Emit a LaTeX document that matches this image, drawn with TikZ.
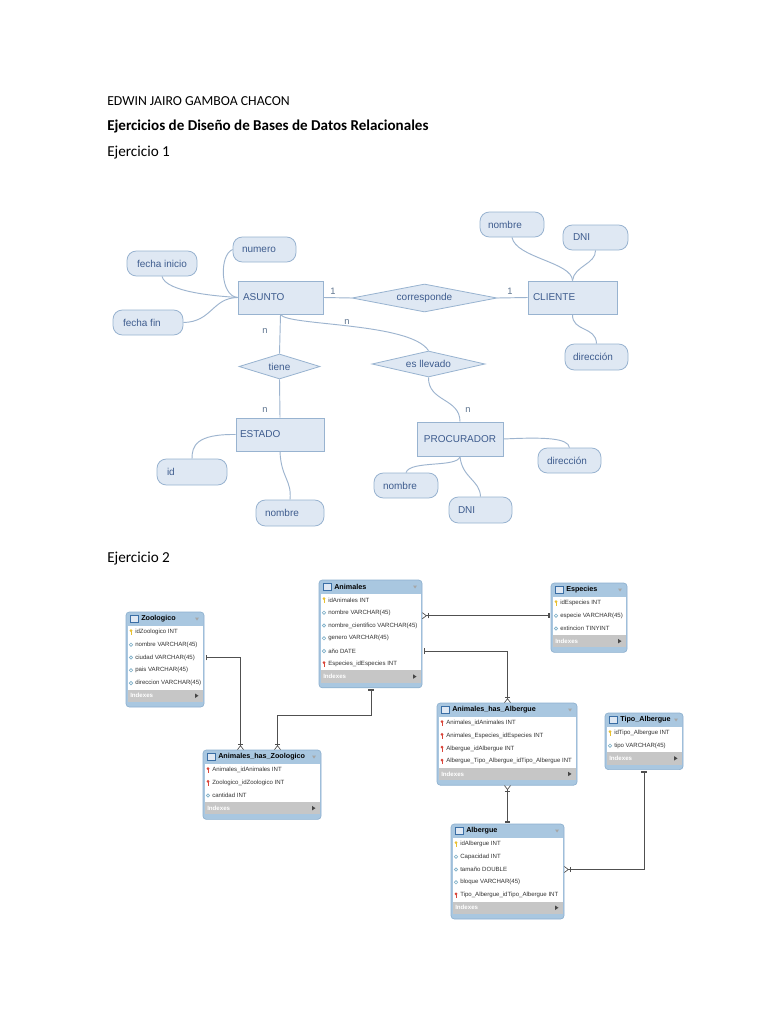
\documentclass[tikz,border=0pt]{standalone}
\usepackage{fontspec}
\setmainfont{Carlito}
\newfontfamily\erfont{Liberation Sans}
\usetikzlibrary{shapes.geometric, arrows.meta}

\definecolor{erfill}{HTML}{DFE8F3}
\definecolor{erdraw}{HTML}{98B3D0}
\definecolor{ertext}{HTML}{3E5C8E}
\definecolor{erlink}{HTML}{9DB4CF}
\definecolor{erlabel}{HTML}{5F7590}
\definecolor{tabhead}{HTML}{A9C7E0}
\definecolor{tabedge}{HTML}{8DB0CF}
\definecolor{tabgray}{HTML}{C6C6C6}
\definecolor{tabicon}{HTML}{3A6EA5}
\definecolor{keyyel}{HTML}{E8C030}
\definecolor{fkred}{HTML}{D9453A}
\definecolor{colcyan}{HTML}{7FB0C8}
\definecolor{linkgray}{HTML}{505050}

\tikzset{
  size/.code 2 args={\pgfmathsetmacro\bw{#1*0.75}\pgfmathsetmacro\bh{#2*0.75}%
    \edef\tmp{\noexpand\tikzset{minimum width=\bw pt,minimum height=\bh pt}}\tmp},
  box/.code n args={3}{\tikzset{size={#1}{#2}}\pgfmathsetmacro\bt{(#1-2*#3)*0.75}%
    \edef\tmp{\noexpand\tikzset{execute at begin node={\noexpand\hbox to \bt pt\noexpand\bgroup},
      execute at end node={\noexpand\hfil\noexpand\egroup}}}\tmp},
  entity/.style={draw=erdraw, fill=erfill, inner sep=0pt, text=ertext,
    font=\erfont\fontsize{7.5}{9}\selectfont, line width=0.6pt},
  attrib/.style={entity, rounded corners=7pt},
  relship/.style={entity, diamond},
  erline/.style={draw=erlink, line width=0.7pt},
  card/.style={text=erlabel, font=\erfont\fontsize{7}{8}\selectfont, inner sep=0pt},
  heading/.style={anchor=base west, inner sep=0pt, font=\fontsize{11.4}{13}\selectfont},
  rowtext/.style={font=\erfont\fontsize{4.55}{5.5}\selectfont, text=black!80, inner sep=0pt, anchor=west},
  tabtitle/.style={font=\erfont\bfseries\fontsize{5.4}{6.5}\selectfont, inner sep=0pt, anchor=west},
  idxtext/.style={font=\erfont\bfseries\fontsize{4.6}{5.5}\selectfont, text=white, inner sep=0pt, anchor=west},
  onemany/.style={draw=linkgray, line width=0.5pt,
    arrows={{Bar[width=4pt,sep=1.2pt]Bar[width=4pt]}-{Bar[width=4pt,sep=0.6pt]Straight Barb[reversed,length=3pt,width=4.5pt]}}},
}

% icons of the columns
\newcommand{\keyicon}[2]{\fill[keyyel] (#1,#2-1.3) circle (1.5); \fill[keyyel] (#1-0.45,#2-1) rectangle (#1+0.45,#2+3);}
\newcommand{\fkicon}[2]{\fill[fkred] (#1,#2-1.3) circle (1.5); \fill[fkred] (#1-0.45,#2-1) rectangle (#1+0.45,#2+3);}
\newcommand{\colicon}[2]{\draw[colcyan, line width=0.5pt] (#1,#2) circle (1.7);}

% table: id, x, y, width, rows, title, list
\newcommand{\sqltable}[7]{%
  \pgfmathsetmacro\tabh{31+#5*12.8}
  \pgfmathsetmacro\rowsend{#3+13.5+#5*12.8}
  \coordinate (#1-nw) at (#2,#3);
  \coordinate (#1-se) at (#2+#4,#3+\tabh);
  \filldraw[fill=tabhead, draw=tabedge, line width=0.5pt, rounded corners=2.5pt] (#1-nw) rectangle (#1-se);
  \fill[white] (#2+1.5,#3+13.5) rectangle (#2+#4-1.5,\rowsend);
  \fill[tabgray] (#2+1.5,\rowsend) rectangle (#2+#4-1.5,\rowsend+12.5);
  \filldraw[fill=erfill, draw=tabicon, line width=0.5pt] (#2+4,#3+3) rectangle (#2+12,#3+10.5);
  \node[tabtitle] (#1-title) at (#2+15,#3+7) {#6};
  \fill[gray!70] (#2+#4-9,#3+5.5) -- (#2+#4-5,#3+5.5) -- (#2+#4-7,#3+8.5) -- cycle;
  \foreach \ic/\tx [count=\i] in {#7} {
    \pgfmathsetmacro\ry{#3+13.5+(\i-0.5)*12.8}
    \csname\ic icon\endcsname{#2+5}{\ry}
    \node[rowtext] (#1-r\i) at (#2+9,\ry) {\tx};
    \coordinate (#1-w\i) at (#2,\ry);
    \coordinate (#1-e\i) at (#2+#4,\ry);
  }
  \node[idxtext] (#1-idx) at (#2+4,\rowsend+6.25) {Indexes};
  \fill[gray!55!black] (#2+#4-9,\rowsend+4) -- (#2+#4-9,\rowsend+8.5) -- (#2+#4-5.5,\rowsend+6.25) -- cycle;
}

\begin{document}
\begin{tikzpicture}[x=0.75pt,y=-0.75pt]
\useasboundingbox[fill=white] (0,0) rectangle (768,1024);

\node[heading, font=\fontsize{10.3}{12}\selectfont] (author) at (107,105) {EDWIN JAIRO GAMBOA CHACON};
\node[heading, font=\bfseries\fontsize{11.3}{13}\selectfont] (title) at (107,130.5) {Ejercicios de Diseño de Bases de Datos Relacionales};
\node[heading] (ej1) at (107,156.5) {Ejercicio 1};
\node[heading] (ej2) at (107,562) {Ejercicio 2};

% Ejercicio 1
\node[entity, box={85}{33}{5}] (asunto) at (280.5,297.5) {ASUNTO};
\node[entity, box={89}{33}{5}] (cliente) at (572.5,297.5) {CLIENTE};
\node[entity, box={88}{33}{4}] (estado) at (280,434.5) {ESTADO};
\node[entity, size={86}{34}] (procurador) at (460,439) {PROCURADOR};

\node[relship, aspect=3.24, size={81}{25}] (tiene) at (279.5,366.5) {tiene};
\node[relship, aspect=5.18, size={145}{28}] (corresponde) at (424.5,298) {corresponde};
\node[relship, aspect=4.35, size={113}{26}] (llevado) at (428.5,364) {es llevado};

\node[attrib, box={63}{25}{9}] (numero) at (264.5,249.5) {numero};
\node[attrib, box={70}{25}{10}] (fechaini) at (162,263.5) {fecha inicio};
\node[attrib, box={70}{25}{10}] (fechafin) at (148,322.5) {fecha fin};
\node[attrib, box={64}{25}{8}] (clinombre) at (512,224.5) {nombre};
\node[attrib, box={65}{25}{10}] (clidni) at (595.5,237.5) {DNI};
\node[attrib, box={63}{26}{8}] (clidir) at (596.5,357) {dirección};
\node[attrib, box={70}{26}{10}] (estid) at (192,472) {id};
\node[attrib, box={68}{26}{9}] (estnombre) at (290,513) {nombre};
\node[attrib, box={63}{25}{9}] (prodir) at (569.5,460.5) {dirección};
\node[attrib, box={64}{25}{9}] (pronombre) at (406,485.5) {nombre};
\node[attrib, box={63}{26}{9}] (prodni) at (480.5,510) {DNI};

\draw[erline] (numero.west) .. controls (219,255) and (220,296) .. (asunto.west);
\draw[erline] (fechaini.south) .. controls (166,292) and (215,296) .. (asunto.west);
\draw[erline] (fechafin.east) .. controls (212,322) and (212,298) .. (asunto.west);
\draw[erline] (asunto.east) -- (corresponde.west);
\draw[erline] (corresponde.east) -- (cliente.west);
\draw[erline] (asunto.south) -- (tiene.north);
\draw[erline] (tiene.south) -- (estado.north);
\draw[erline] (asunto.south) .. controls (286,326) and (410,322) .. (llevado.north);
\draw[erline] (llevado.south) .. controls (428,402) and (460,398) .. (procurador.north);
\draw[erline] (cliente.north) .. controls (572,262) and (516,258) .. (clinombre.south);
\draw[erline] (cliente.north) .. controls (574,266) and (596,264) .. (clidni.south);
\draw[erline] (cliente.south) .. controls (572,332) and (596,326) .. (clidir.north);
\draw[erline] (estado.west) .. controls (196,434) and (192,446) .. (estid.north);
\draw[erline] (estado.south) .. controls (281,478) and (292,480) .. (estnombre.north);
\draw[erline] (procurador.east) .. controls (545,437) and (568,438) .. (prodir.north);
\draw[erline] (procurador.south) .. controls (458,468) and (410,460) .. (pronombre.north);
\draw[erline] (procurador.south) .. controls (462,478) and (480,480) .. (prodni.north);

\node[card] (card1) at (333,291) {1};
\node[card] (card2) at (510,291) {1};
\node[card] (card3) at (265,331) {n};
\node[card] (card4) at (347,322) {n};
\node[card] (card5) at (265,410) {n};
\node[card] (card6) at (468,410) {n};

% Ejercicio 2
\sqltable{zoo}{126}{612}{78}{5}{Zoologico}{key/idZoologico INT, col/nombre VARCHAR(45), col/ciudad VARCHAR(45), col/pais VARCHAR(45), col/direccion VARCHAR(45)}
\sqltable{ani}{319}{580}{103}{6}{Animales}{key/idAnimales INT, col/nombre VARCHAR(45), col/nombre\_cientifico VARCHAR(45), col/genero VARCHAR(45), col/año DATE, fk/Especies\_idEspecies INT}
\sqltable{esp}{551}{583}{76}{3}{Especies}{key/idEspecies INT, col/especie VARCHAR(45), col/extincion TINYINT}
\sqltable{ahz}{203}{750}{118}{3}{Animales\_has\_Zoologico}{fk/Animales\_idAnimales INT, fk/Zoologico\_idZoologico INT, col/cantidad INT}
\sqltable{aha}{437}{703}{140}{4}{Animales\_has\_Albergue}{fk/Animales\_idAnimales INT, fk/Animales\_Especies\_idEspecies INT, fk/Albergue\_idAlbergue INT, fk/Albergue\_Tipo\_Albergue\_idTipo\_Albergue INT}
\sqltable{tip}{605}{713}{78}{2}{Tipo\_Albergue}{key/idTipo\_Albergue INT, col/tipo VARCHAR(45)}
\sqltable{alb}{451}{824}{113}{5}{Albergue}{key/idAlbergue INT, col/Capacidad INT, col/tamaño DOUBLE, col/bloque VARCHAR(45), fk/Tipo\_Albergue\_idTipo\_Albergue INT}

\coordinate (ahzA) at (240.5,750);
\coordinate (ahzB) at (277.5,750);
\coordinate (ahaA) at (507.5,703);
\coordinate (ahaB) at (507.5,785.2);
\coordinate (aniB) at (371,687.8);
\coordinate (albA) at (507.5,824);
\coordinate (tipB) at (644,769.6);

\draw[onemany] (zoo-e3) -| (ahzA);
\draw[onemany] (esp-w2) -- (esp-w2 -| ani-se);
\draw[onemany] (ani-e5) -| (ahaA);
\draw[onemany] (aniB) -- ++(0,28) -| (ahzB);
\draw[onemany] (albA) -- (ahaB);
\draw[onemany] (tipB) |- (alb-e3);
\end{tikzpicture}
\end{document}
